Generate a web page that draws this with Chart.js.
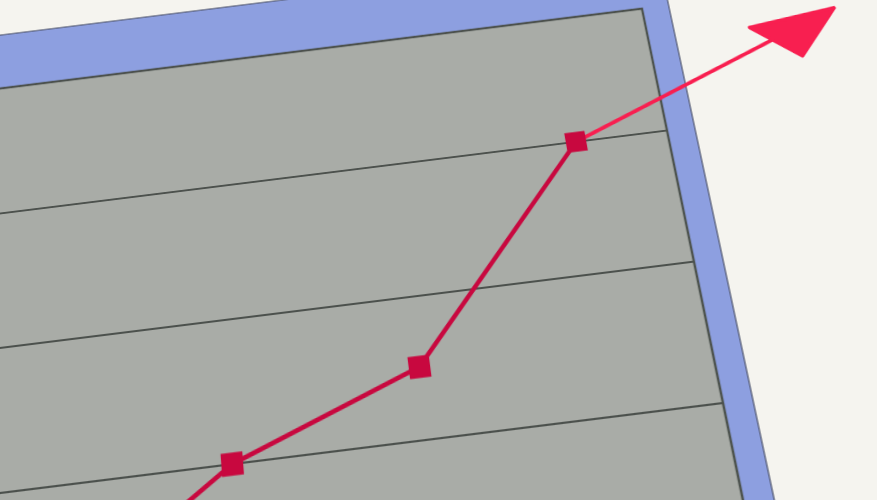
<!DOCTYPE html>
<html>
<head>
<meta charset="utf-8">
<script src="https://cdn.jsdelivr.net/npm/chart.js@4.4.1/dist/chart.umd.min.js"></script>
<style>
  html, body { margin: 0; padding: 0; width: 877px; height: 500px; overflow: hidden; background: #f5f4ef; }
  #sheet { position: absolute; left: 0; top: 0; width: 1040px; height: 645px; transform-origin: 0 0; }
</style>
</head>
<body>
<div id="sheet"><canvas id="trend" width="1040" height="645"></canvas></div>
<script>
// chart values (flattened back out of the perspective)
const xValues = [0, 1, 2, 3];
const seriesValues = [1, 10, 15, 30];
const arrowTip = [4.56, 38.1];
const xRange = [-0.5, 3.5];
const yRange = [0, 40];
const yStep = 10;

// the photo is taken at an angle: corners of the flat sheet -> where they land on screen
const sheetCorners = [[100, 215], [800, 215], [100, 491], [800, 491]];
const photoCorners = [[0, 213.5], [667, 130.5], [3.5, 492.6], [723, 403]];

function quadTransform(src, dst) {
  const m = [], r = [];
  for (let i = 0; i < 4; i++) {
    const [x, y] = src[i], [u, v] = dst[i];
    m.push([x, y, 1, 0, 0, 0, -u * x, -u * y]); r.push(u);
    m.push([0, 0, 0, x, y, 1, -v * x, -v * y]); r.push(v);
  }
  for (let c = 0; c < 8; c++) {
    let p = c;
    for (let k = c + 1; k < 8; k++) if (Math.abs(m[k][c]) > Math.abs(m[p][c])) p = k;
    [m[c], m[p]] = [m[p], m[c]];
    [r[c], r[p]] = [r[p], r[c]];
    for (let k = 0; k < 8; k++) {
      if (k === c) continue;
      const f = m[k][c] / m[c][c];
      for (let j = c; j < 8; j++) m[k][j] -= f * m[c][j];
      r[k] -= f * r[c];
    }
  }
  const h = r.map((v, i) => v / m[i][i]);
  return `matrix3d(${h[0]},${h[3]},0,${h[6]},${h[1]},${h[4]},0,${h[7]},0,0,1,0,${h[2]},${h[5]},0,1)`;
}

document.getElementById('sheet').style.transform = quadTransform(sheetCorners, photoCorners);

const LINE_RED = '#c8083f';
const ARROW_RED = '#f81f50';

// blue frame + grey plot area behind the grid
const framePlugin = {
  id: 'frame',
  beforeDraw(chart) {
    const { ctx, chartArea: a } = chart;
    ctx.save();
    ctx.fillStyle = '#8d9fe0';
    ctx.fillRect(a.left - 29, a.top - 62, a.width + 58, a.height + 124);
    ctx.strokeStyle = 'rgba(80,86,110,0.6)';
    ctx.lineWidth = 2;
    ctx.strokeRect(a.left - 29, a.top - 62, a.width + 58, a.height + 124);
    ctx.fillStyle = '#a9aca7';
    ctx.fillRect(a.left, a.top, a.width, a.height);
    ctx.strokeStyle = '#4f5551';
    ctx.lineWidth = 2.5;
    ctx.strokeRect(a.left, a.top, a.width, a.height);
    ctx.restore();
  }
};

// arrow head at the end of the trend arrow
const arrowPlugin = {
  id: 'arrowHead',
  afterDatasetsDraw(chart) {
    const pts = chart.getDatasetMeta(1).data;
    const from = pts[0], tip = pts[pts.length - 1];
    const dx = tip.x - from.x, dy = tip.y - from.y, len = Math.hypot(dx, dy);
    const ux = dx / len, uy = dy / len, nx = -uy, ny = ux;
    const corner = (along, side) => [tip.x + ux * along + nx * side, tip.y + uy * along + ny * side];
    const c1 = corner(-91, -23), c2 = corner(-60, 30);
    const { ctx } = chart;
    ctx.save();
    ctx.fillStyle = ARROW_RED;
    ctx.strokeStyle = ARROW_RED;
    ctx.lineWidth = 4;
    ctx.lineJoin = 'round';
    ctx.beginPath();
    ctx.moveTo(tip.x, tip.y);
    ctx.lineTo(c1[0], c1[1]);
    ctx.lineTo(c2[0], c2[1]);
    ctx.closePath();
    ctx.fill();
    ctx.stroke();
    ctx.restore();
  }
};

const ctx = document.getElementById('trend').getContext('2d');
new Chart(ctx, {
  type: 'line',
  data: {
    datasets: [
      {
        data: xValues.map((x, i) => ({ x, y: seriesValues[i] })),
        borderColor: LINE_RED,
        borderWidth: 4.5,
        pointStyle: 'rect',
        pointRadius: 15,
        pointBackgroundColor: LINE_RED,
        pointBorderColor: LINE_RED,
        pointBorderWidth: 0,
        tension: 0
      },
      {
        data: [
          { x: xValues[xValues.length - 1], y: seriesValues[seriesValues.length - 1] },
          { x: arrowTip[0], y: arrowTip[1] }
        ],
        borderColor: ARROW_RED,
        borderWidth: 4,
        borderCapStyle: 'round',
        pointRadius: 0,
        clip: false
      }
    ]
  },
  options: {
    responsive: false,
    animation: false,
    devicePixelRatio: 2,
    layout: { padding: { left: 36, right: 240, top: 77, bottom: 16 } },
    scales: {
      x: { type: 'linear', min: xRange[0], max: xRange[1], display: false },
      y: {
        min: yRange[0], max: yRange[1],
        ticks: { display: false, stepSize: yStep },
        grid: { color: '#4c514d', lineWidth: 2, drawTicks: false },
        border: { display: false }
      }
    },
    plugins: { legend: { display: false }, tooltip: { enabled: false } }
  },
  plugins: [framePlugin, arrowPlugin]
});
</script>
</body>
</html>
